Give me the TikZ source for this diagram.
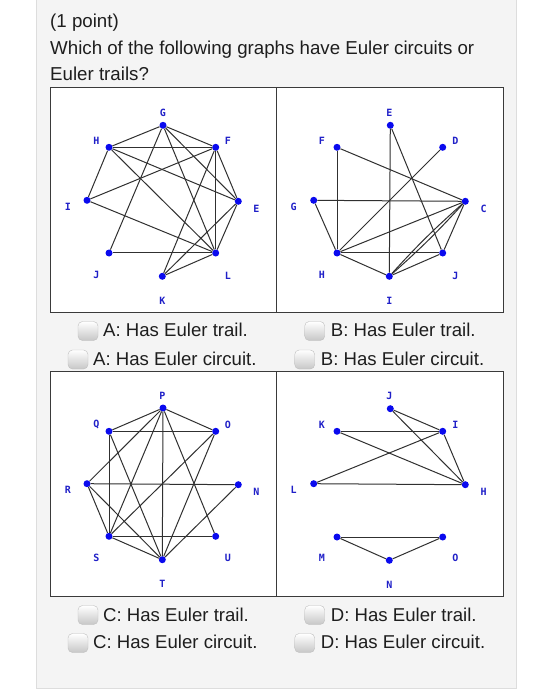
\documentclass[tikz,border=0pt]{standalone}
\usepackage{fontspec}
\setmainfont{Liberation Sans}
\newfontfamily\lblfont{DejaVu Sans Mono Bold}
\definecolor{panelbg}{HTML}{F4F4F4}
\definecolor{panelline}{HTML}{DDDDDD}
\definecolor{vtxblue}{HTML}{0A0AEE}
\definecolor{lblblue}{HTML}{2020C8}
\definecolor{edgegray}{HTML}{303030}
\definecolor{txt}{HTML}{1E1E1E}
\definecolor{boxline}{HTML}{3A3A3A}
\tikzset{
  vtx/.style={circle,fill=vtxblue,inner sep=0pt,minimum size=7pt},
  lbl/.style={text=lblblue,font=\lblfont\fontsize{10}{10}\selectfont,inner sep=0pt},
  edge/.style={draw=edgegray,line width=1pt},
  gbox/.style={draw=boxline,fill=white,line width=1pt},
  qtext/.style={text=txt,font=\fontsize{18.7}{22}\selectfont,inner sep=0pt,anchor=base west},
  ctext/.style={text=txt,font=\fontsize{18.6}{22}\selectfont,inner sep=0pt,anchor=base west},
  chk/.style={draw=black!25,rounded corners=4.5pt,top color=white,bottom color=black!22,minimum width=20pt,minimum height=19pt,inner sep=0pt}
}
\begin{document}
\begin{tikzpicture}[x=1pt,y=-1pt]
\useasboundingbox (0,0) rectangle (553,700);
\fill[white] (0,0) rectangle (553,700);
\fill[panelbg] (36,0) rectangle (516,688);
\draw[panelline,line width=1pt] (36,0) -- (36,688) -- (516,688) -- (516,0);
% question text
\node[qtext] (t1) at (50,28) {(1 point)};
\node[qtext] (t2) at (50,55) {Which of the following graphs have Euler circuits or};
\node[qtext] (t3) at (50,81) {Euler trails?};
% boxes
\draw[gbox] (50,88) rectangle (276.5,312);
\draw[gbox] (276.5,88) rectangle (503,312);
\draw[gbox] (50,371) rectangle (276.5,596);
\draw[gbox] (276.5,371) rectangle (503,596);
% ---------- Graph A ----------
\node[vtx] (aG) at (163,125.3) {};
\node[vtx] (aH) at (109,147.3) {};
\node[vtx] (aF) at (215.7,147.3) {};
\node[vtx] (aI) at (87,200.3) {};
\node[vtx] (aE) at (238.3,201.3) {};
\node[vtx] (aJ) at (109,253) {};
\node[vtx] (aL) at (215.7,253) {};
\node[vtx] (aK) at (162.3,276.3) {};
\node[lbl] (aGl) at (163,113) {G};
\node[lbl] (aHl) at (96.3,140.7) {H};
\node[lbl] (aFl) at (228,140.7) {F};
\node[lbl] (aIl) at (68,207) {I};
\node[lbl] (aEl) at (256.3,208.7) {E};
\node[lbl] (aJl) at (96.3,274.5) {J};
\node[lbl] (aLl) at (228,275.7) {L};
\node[lbl] (aKl) at (162.3,301.3) {K};
\draw[edge] (aG) -- (aH);
\draw[edge] (aG) -- (aF);
\draw[edge] (aG) -- (aJ);
\draw[edge] (aG) -- (aE);
\draw[edge] (aG) -- (aL);
\draw[edge] (aH) -- (aF);
\draw[edge] (aH) -- (aI);
\draw[edge] (aH) -- (aE);
\draw[edge] (aH) -- (aL);
\draw[edge] (aF) -- (aI);
\draw[edge] (aF) -- (aL);
\draw[edge] (aF) -- (aK);
\draw[edge] (aF) -- (aE);
\draw[edge] (aI) -- (aL);
\draw[edge] (aJ) -- (aL);
\draw[edge] (aK) -- (aL);
\draw[edge] (aK) -- (aE);
\draw[edge] (aE) -- (aL);
% ---------- Graph B ----------
\node[vtx] (bE) at (390.3,125.3) {};
\node[vtx] (bF) at (337,147.3) {};
\node[vtx] (bD) at (442.7,147.3) {};
\node[vtx] (bG) at (313.7,200.3) {};
\node[vtx] (bC) at (465.3,201.3) {};
\node[vtx] (bH) at (337,253) {};
\node[vtx] (bJ) at (442.7,253) {};
\node[vtx] (bI) at (389.3,276.3) {};
\node[lbl] (bEl) at (389.3,113) {E};
\node[lbl] (bFl) at (322,141.3) {F};
\node[lbl] (bDl) at (455.3,141.3) {D};
\node[lbl] (bGl) at (293.7,206.8) {G};
\node[lbl] (bCl) at (483.7,208.7) {C};
\node[lbl] (bHl) at (322,274.7) {H};
\node[lbl] (bJl) at (455.3,275.7) {J};
\node[lbl] (bIl) at (389.3,301.3) {I};
\draw[edge] (bE) -- (bI);
\draw[edge] (bE) -- (bJ);
\draw[edge] (bF) -- (bH);
\draw[edge] (bF) -- (bC);
\draw[edge] (bD) -- (bH);
\draw[edge] (bG) -- (bC);
\draw[edge] (bG) -- (bH);
\draw[edge] (bH) -- (bC);
\draw[edge] (bH) -- (bJ);
\draw[edge] (bH) -- (bI);
\draw[edge] (bI) -- (bJ);
\draw[edge] (bJ) -- (bC);
\draw[edge] (bC) to[bend left=3] (bI);
\draw[edge] (bC) to[bend right=3] (bI);
% ---------- Graph C ----------
\node[vtx] (cP) at (163,408) {};
\node[vtx] (cQ) at (109,431.3) {};
\node[vtx] (cO) at (215.7,431.3) {};
\node[vtx] (cR) at (87,483.7) {};
\node[vtx] (cN) at (238.3,484.7) {};
\node[vtx] (cS) at (109,536.3) {};
\node[vtx] (cU) at (215.7,536.3) {};
\node[vtx] (cT) at (162.3,559.7) {};
\node[lbl] (cPl) at (162.3,396) {P};
\node[lbl] (cQl) at (96.3,424.7) {Q};
\node[lbl] (cOl) at (228,424.7) {O};
\node[lbl] (cRl) at (68,490.3) {R};
\node[lbl] (cNl) at (256.3,492) {N};
\node[lbl] (cSl) at (96.3,558) {S};
\node[lbl] (cUl) at (228,558) {U};
\node[lbl] (cTl) at (162.3,584.3) {T};
\draw[edge] (cP) -- (cQ);
\draw[edge] (cP) -- (cO);
\draw[edge] (cP) -- (cR);
\draw[edge] (cP) -- (cS);
\draw[edge] (cP) -- (cT);
\draw[edge] (cP) -- (cU);
\draw[edge] (cQ) -- (cO);
\draw[edge] (cQ) -- (cS);
\draw[edge] (cQ) -- (cT);
\draw[edge] (cO) -- (cS);
\draw[edge] (cO) -- (cT);
\draw[edge] (cR) -- (cN);
\draw[edge] (cR) -- (cS);
\draw[edge] (cR) -- (cT);
\draw[edge] (cN) -- (cT);
\draw[edge] (cS) -- (cU);
\draw[edge] (cS) -- (cT);
% ---------- Graph D ----------
\node[vtx] (dJ) at (390.3,408.7) {};
\node[vtx] (dK) at (337,431.3) {};
\node[vtx] (dI) at (442.7,431.3) {};
\node[vtx] (dL) at (313.7,483.7) {};
\node[vtx] (dH) at (465.3,484.7) {};
\node[vtx] (dM) at (337,537) {};
\node[vtx] (dO) at (442.7,537) {};
\node[vtx] (dN) at (389.3,560.3) {};
\node[lbl] (dJl) at (389.3,396) {J};
\node[lbl] (dKl) at (322,424.7) {K};
\node[lbl] (dIl) at (455.3,424.7) {I};
\node[lbl] (dLl) at (293.7,490.3) {L};
\node[lbl] (dHl) at (483.7,492) {H};
\node[lbl] (dMl) at (322,558) {M};
\node[lbl] (dOl) at (455.3,558) {O};
\node[lbl] (dNl) at (389.3,585.3) {N};
\draw[edge] (dJ) -- (dI);
\draw[edge] (dJ) -- (dH);
\draw[edge] (dK) -- (dI);
\draw[edge] (dK) -- (dH);
\draw[edge] (dL) -- (dI);
\draw[edge] (dL) -- (dH);
\draw[edge] (dI) -- (dH);
\draw[edge] (dM) -- (dO);
\draw[edge] (dM) -- (dN);
\draw[edge] (dN) -- (dO);
% ---------- choices ----------
\node[chk] (ca1) at (88,331) {};
\node[ctext] (ta1) at (103,336) {A: Has Euler trail.};
\node[chk] (ca2) at (78,359.5) {};
\node[ctext] (ta2) at (93,365) {A: Has Euler circuit.};
\node[chk] (cb1) at (314.7,331) {};
\node[ctext] (tb1) at (330.7,336) {B: Has Euler trail.};
\node[chk] (cb2) at (304.7,359.5) {};
\node[ctext] (tb2) at (320.7,365) {B: Has Euler circuit.};
\node[chk] (cc1) at (88,615) {};
\node[ctext] (tc1) at (103,621) {C: Has Euler trail.};
\node[chk] (cc2) at (78,643) {};
\node[ctext] (tc2) at (93,648) {C: Has Euler circuit.};
\node[chk] (cd1) at (314.7,615) {};
\node[ctext] (td1) at (330.7,621) {D: Has Euler trail.};
\node[chk] (cd2) at (304.7,643) {};
\node[ctext] (td2) at (320.7,648) {D: Has Euler circuit.};
\end{tikzpicture}
\end{document}
